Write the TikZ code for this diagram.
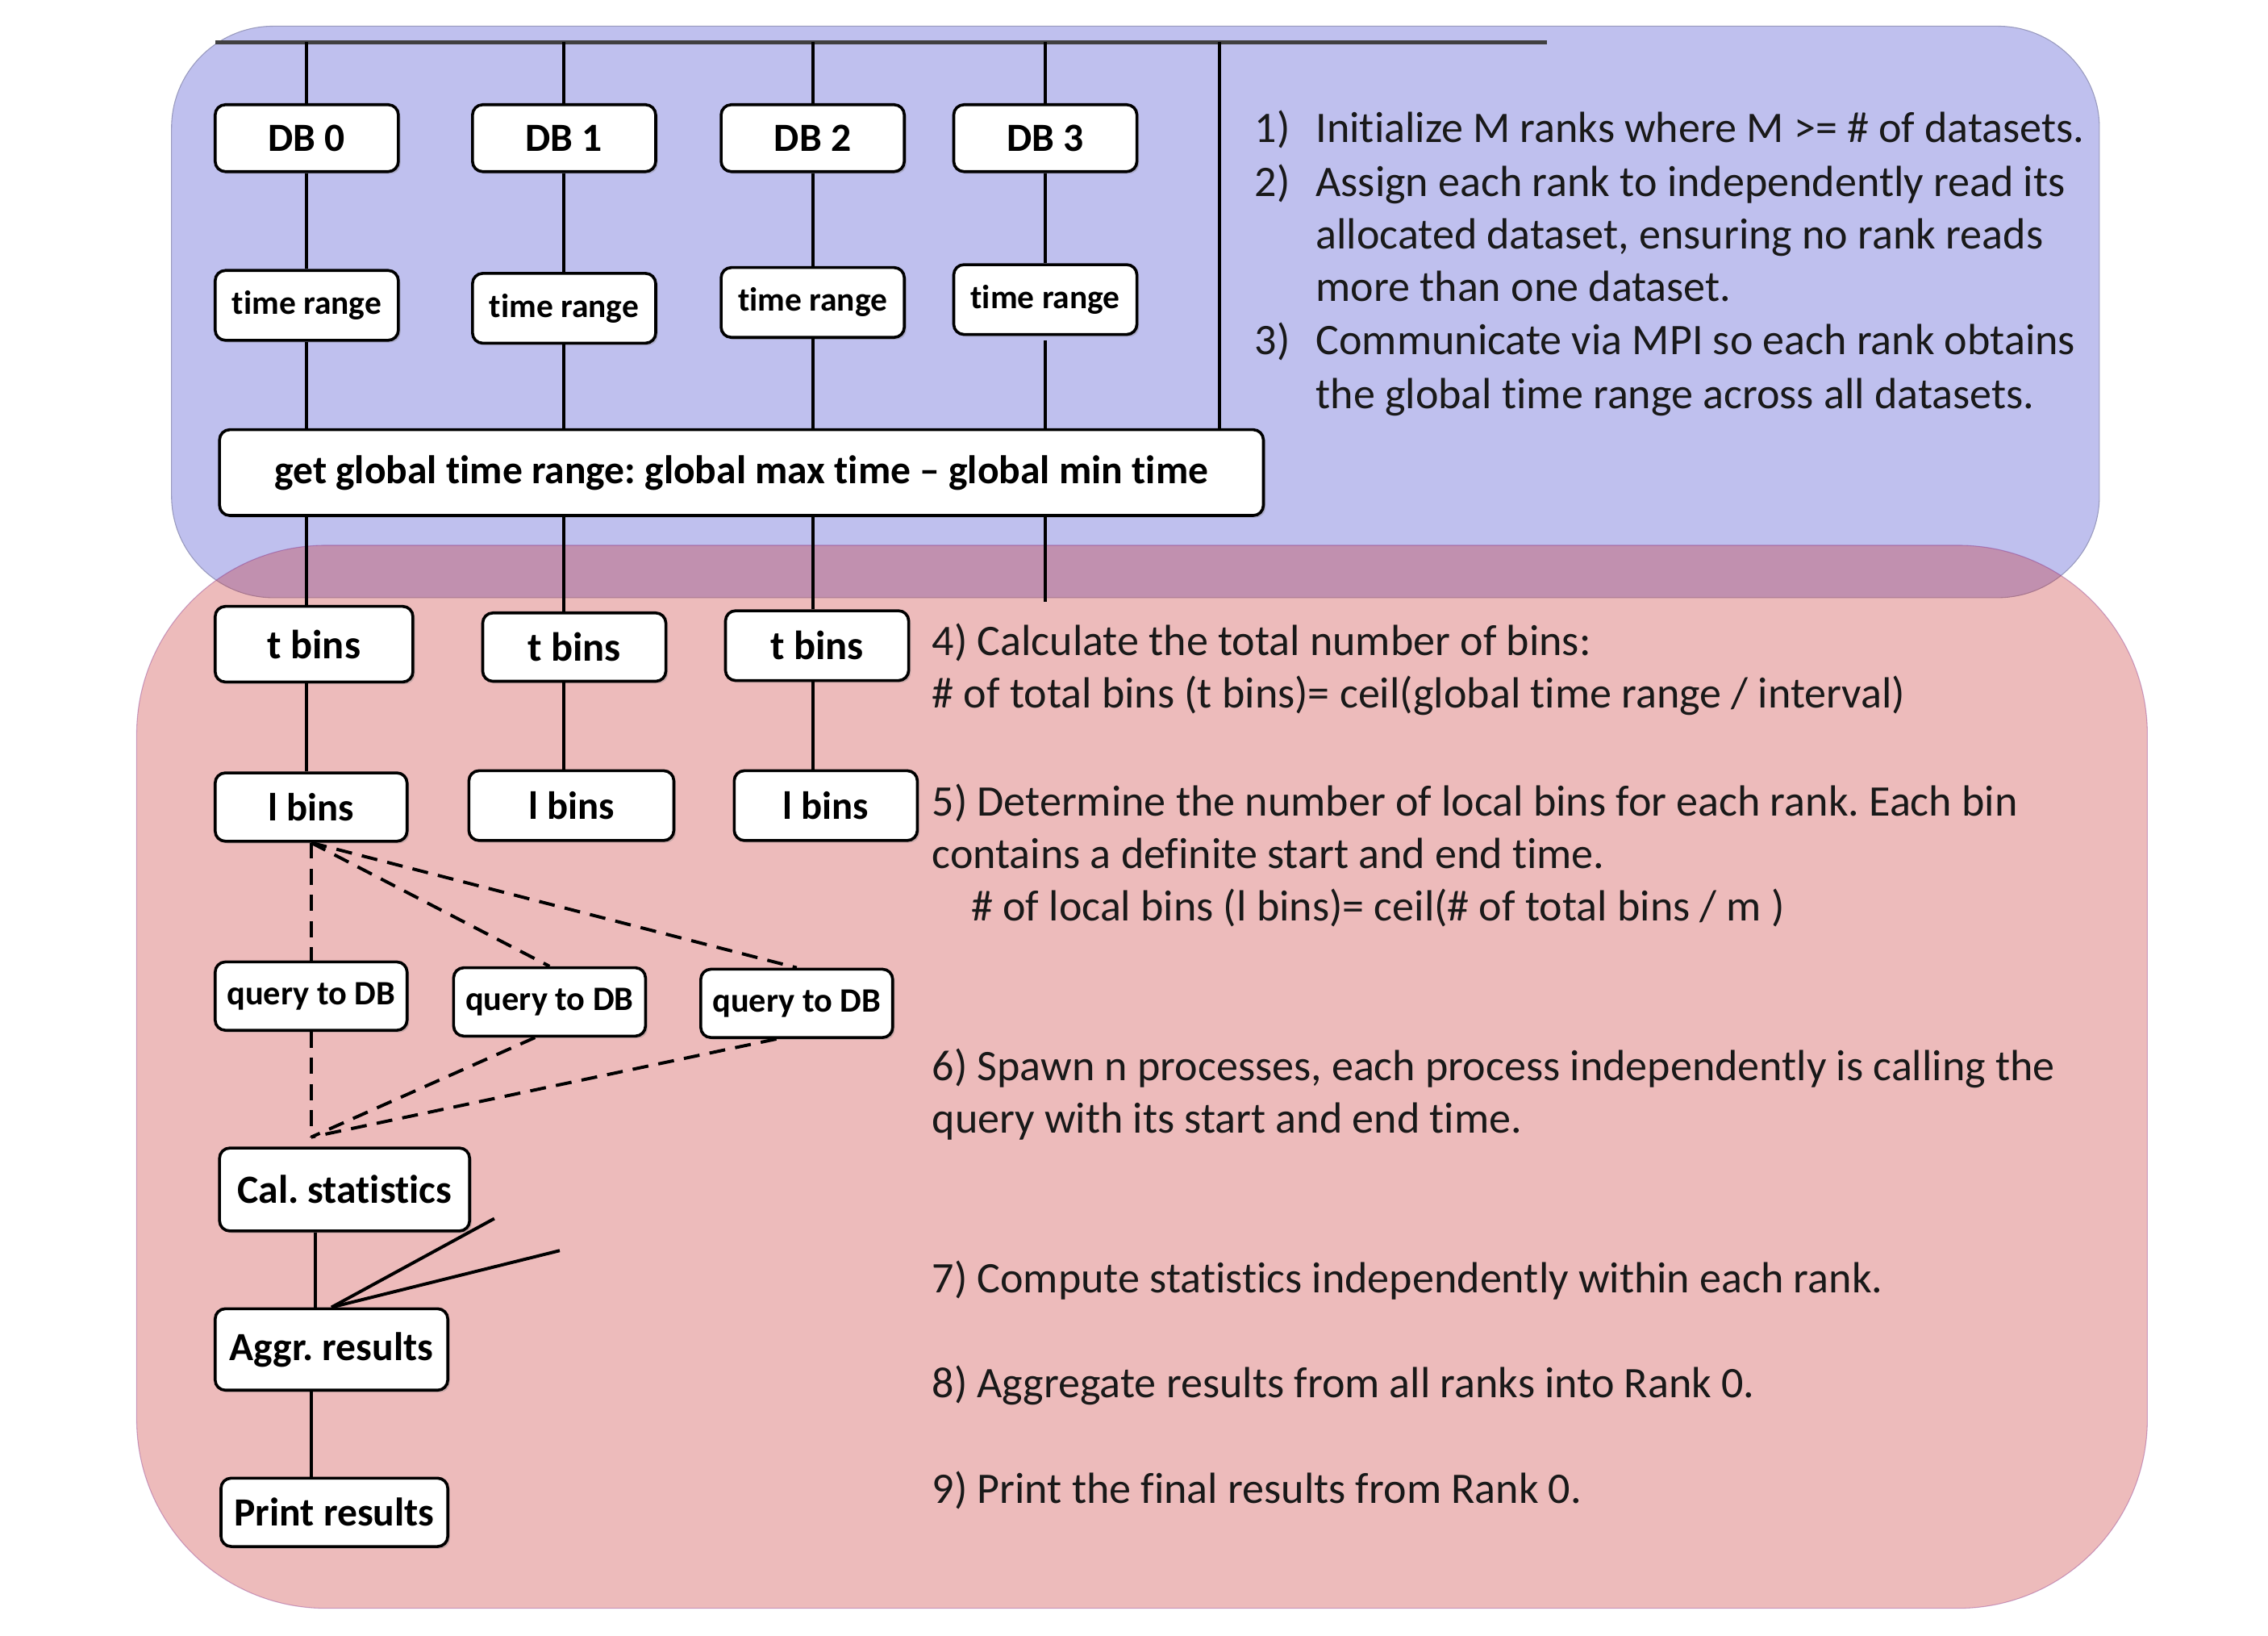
\documentclass[tikz,border=0pt]{standalone}
\usepackage{fontspec}
\setmainfont{Carlito}[Ligatures={TeX,NoCommon}]
\usetikzlibrary{shadows}
\frenchspacing

\definecolor{rankblue}{RGB}{191,192,238}
\definecolor{rankrose}{RGB}{200,49,49}

\tikzset{
  rbox/.style={draw=black, line width=2pt, fill=white, rounded corners=7pt,
    inner sep=0pt, font=\bfseries,
    drop shadow={shadow xshift=1.5pt, shadow yshift=-1.5pt, opacity=.35}},
  note/.style={anchor=base west, inner sep=0pt, text=black!90,
    font=\fontsize{30}{36}\selectfont}
}

\begin{document}
\begin{tikzpicture}[x=1pt, y=-1pt, line width=2.2pt]
\useasboundingbox (0,0) rectangle (1560,1125);

% the two stage regions:
\filldraw [fill=rankblue, draw=rankblue!80!black, line width=.6pt, rounded corners=70pt]
  (118,18) rectangle (1444,411);
\filldraw [fill=rankrose, fill opacity=.33, draw=rankrose!60!blue, draw opacity=.35,
  line width=.6pt, rounded corners=130pt] (94,375) rectangle (1477,1106);

% MPI bus
\coordinate (busL) at (148,29);
\coordinate (busR) at (1064,29);
\draw [line width=3pt, black!75] (busL) -- (busR);
\foreach \n/\x in {1/211,2/388,3/559,4/719,5/839}
  \coordinate (c\n) at (\x,29);

% read + local time range per rank
\foreach \n/\x/\y in {0/211/210,1/388/212,2/559/208,3/719/206} {
  \node [rbox, minimum width=126pt, minimum height=46pt, font=\bfseries\fontsize{27.5}{32}\selectfont]
    (db\n) at (\x,95) {DB \n};
  \node [rbox, minimum width=126pt, minimum height=48pt, font=\bfseries\fontsize{23}{27}\selectfont]
    (tr\n) at (\x,\y) {time range};
  \draw (db\n.north |- busL) -- (db\n.north);
  \draw (db\n.south) -- (tr\n.north);
}
\node [rbox, minimum width=718pt, minimum height=59pt, font=\bfseries\fontsize{27.5}{32}\selectfont]
  (glob) at (510,325) {get global time range: global max time -- global min time};

\draw (tr0.south) -- (tr0.south |- glob.north);
\draw (tr1.south) -- (tr1.south |- glob.north);
\draw (tr2.south) -- (tr2.south |- glob.north);
\coordinate (gap4) at (719,234);
\draw (gap4) -- (gap4 |- glob.north);
\draw (c5) -- (c5 |- glob.north);

% bins
\node [rbox, minimum width=136pt, minimum height=52pt, font=\bfseries\fontsize{28}{32}\selectfont]
  (tb0) at (216,443) {t bins};
\node [rbox, minimum width=126pt, minimum height=47pt, font=\bfseries\fontsize{28}{32}\selectfont]
  (tb1) at (395,445) {t bins};
\node [rbox, minimum width=126pt, minimum height=48pt, font=\bfseries\fontsize{28}{32}\selectfont]
  (tb2) at (562,444) {t bins};
\node [rbox, minimum width=132pt, minimum height=47pt, font=\bfseries\fontsize{27}{32}\selectfont]
  (lb0) at (214,555) {l bins};
\node [rbox, minimum width=141pt, minimum height=48pt, font=\bfseries\fontsize{27}{32}\selectfont]
  (lb1) at (393,554) {l bins};
\node [rbox, minimum width=126pt, minimum height=48pt, font=\bfseries\fontsize{27}{32}\selectfont]
  (lb2) at (568,554) {l bins};

\foreach \n/\b in {1/0,2/1,3/2} {
  \draw (c\n |- glob.south) -- (c\n |- tb\b.north);
  \draw (c\n |- tb\b.south) -- (c\n |- lb\b.north);
}
\coordinate (end4) at (719,414);
\draw (c4 |- glob.south) -- (end4);

% queries
\foreach \n/\x/\y in {0/214/685,1/378/689,2/548/690}
  \node [rbox, minimum width=132pt, minimum height=47pt, font=\bfseries\fontsize{23.5}{27}\selectfont]
    (q\n) at (\x,\y) {query to DB};

\coordinate (merge) at (214,782);
\begin{scope}[dash pattern=on 11pt off 7pt]
  \draw (lb0.south) -- (q0.north);
  \draw (lb0.south) -- (q1.north);
  \draw (lb0.south) -- (q2.north);
  \draw (q0.south) -- (merge);
  \draw ([xshift=-10pt]q1.south) -- (merge);
  \draw ([xshift=-14pt]q2.south) -- (merge);
\end{scope}

% statistics, aggregation, output
\node [rbox, minimum width=172pt, minimum height=57pt, font=\bfseries\fontsize{27.5}{32}\selectfont]
  (cal) at (237,818) {Cal. statistics};
\node [rbox, minimum width=160pt, minimum height=56pt, font=\bfseries\fontsize{27.5}{32}\selectfont]
  (aggr) at (228,928) {Aggr. results};
\node [rbox, minimum width=156pt, minimum height=47pt, font=\bfseries\fontsize{27.5}{32}\selectfont]
  (print) at (230,1040) {Print results};

\draw ([xshift=-20pt]cal.south) -- ([xshift=-20pt]cal.south |- aggr.north);
\coordinate (tipA) at (340,838);
\coordinate (tipB) at (385,860);
\draw (aggr.north) -- (tipA);
\draw (aggr.north) -- (tipB);
\draw ([xshift=-14pt]aggr.south) -- ([xshift=-14pt]aggr.south |- print.north);

% steps 1-3
\foreach \y/\num in {98/1,135/2,244/3}
  \node [note] (num\num) at (862,\y) {\num)};
\foreach \y/\txt [count=\i] in {
    98/{Initialize M ranks where M >= \# of datasets.},
    135/{Assign each rank to independently read its},
    171/{allocated dataset, ensuring no rank reads},
    207/{more than one dataset.},
    244/{Communicate via MPI so each rank obtains},
    281/{the global time range across all datasets.}}
  \node [note] (init\i) at (904,\y) {\txt};

% steps 4-9
\foreach \y/\txt [count=\i] in {
    451/{4) Calculate the total number of bins:},
    487/{\# of total bins (t bins)= ceil(global time range / interval)},
    561/{5) Determine the number of local bins for each rank. Each bin},
    597/{contains a definite start and end time.},
    743/{6) Spawn n processes, each process independently is calling the},
    779/{query with its start and end time.},
    889/{7) Compute statistics independently within each rank.},
    961/{8) Aggregate results from all ranks into Rank 0.},
    1034/{9) Print the final results from Rank 0.}}
  \node [note] (step\i) at (640,\y) {\txt};
\node [note] (lrule) at (667,633) {\# of local bins (l bins)= ceil(\# of total bins / m )};

\end{tikzpicture}
\end{document}
